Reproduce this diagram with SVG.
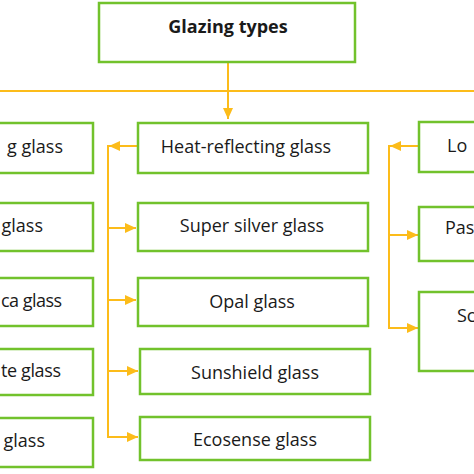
<svg xmlns="http://www.w3.org/2000/svg" width="474" height="474" viewBox="0 0 474 474">
<style>
.box{fill:#ffffff;stroke:#72c22c;stroke-width:2.5}
.lbl{font-family:"Open Sans","Liberation Sans",sans-serif;font-size:18px;fill:#1a1a1a}
.mid{text-anchor:middle}
.end{text-anchor:end}
.title{font-weight:bold}
.con{fill:none;stroke:#fcbc1a;stroke-width:2}
</style>
<defs>
<marker id="ah" markerUnits="userSpaceOnUse" markerWidth="11" markerHeight="11" viewBox="0 0 11 11" refX="11" refY="5.5" orient="auto">
<path d="M0,0.5 L11,5.5 L0,10.5 Z" fill="#fcbc1a"/>
</marker>
</defs>
<rect width="474" height="474" fill="#ffffff"/>
<g id="connectors">
<path class="con" d="M228,62 V91"/>
<path class="con" d="M0,91 H474"/>
<path class="con" d="M228,91 V119" marker-end="url(#ah)"/>
<path class="con" d="M138,146 H109" marker-end="url(#ah)"/>
<path class="con" d="M108,145 V437"/>
<path class="con" d="M108,228 H136" marker-end="url(#ah)"/>
<path class="con" d="M108,300 H136" marker-end="url(#ah)"/>
<path class="con" d="M108,371 H138" marker-end="url(#ah)"/>
<path class="con" d="M107,437 H138" marker-end="url(#ah)"/>
<path class="con" d="M419,146 H390" marker-end="url(#ah)"/>
<path class="con" d="M389,145 V328"/>
<path class="con" d="M389,235 H418" marker-end="url(#ah)"/>
<path class="con" d="M388,328 H418" marker-end="url(#ah)"/>
</g>
<g id="glazing-types"><rect class="box" x="99" y="3" width="256" height="59"/><text class="lbl mid title" x="228" y="33">Glazing types</text></g>
<g id="left-1"><rect class="box" x="-10" y="123" width="103" height="50"/><text class="lbl end" x="63" y="153">g glass</text></g>
<g id="left-2"><rect class="box" x="-10" y="203" width="103" height="48"/><text class="lbl end" x="43" y="232">glass</text></g>
<g id="left-3"><rect class="box" x="-10" y="278" width="103" height="48"/><text class="lbl end" x="62" y="307" textLength="61">ca glass</text></g>
<g id="left-4"><rect class="box" x="-10" y="349" width="103" height="46"/><text class="lbl end" x="61" y="377" textLength="60">te glass</text></g>
<g id="left-5"><rect class="box" x="-10" y="418" width="103" height="49"/><text class="lbl end" x="45" y="447">glass</text></g>
<g id="heat-reflecting"><rect class="box" x="138" y="123" width="230" height="50"/><text class="lbl mid" x="246" y="153">Heat-reflecting glass</text></g>
<g id="super-silver"><rect class="box" x="138" y="203" width="230" height="48"/><text class="lbl mid" x="252" y="232">Super silver glass</text></g>
<g id="opal"><rect class="box" x="138" y="278" width="230" height="48"/><text class="lbl mid" x="252" y="308">Opal glass</text></g>
<g id="sunshield"><rect class="box" x="140" y="349" width="230" height="45"/><text class="lbl mid" x="255" y="379">Sunshield glass</text></g>
<g id="ecosense"><rect class="box" x="140" y="417" width="230" height="43"/><text class="lbl mid" x="255" y="446">Ecosense glass</text></g>
<g id="right-1"><rect class="box" x="419" y="122" width="100" height="50"/><text class="lbl" x="447" y="152">Lo</text></g>
<g id="right-2"><rect class="box" x="419" y="207" width="100" height="54"/><text class="lbl" x="445" y="234">Pas</text></g>
<g id="right-3"><rect class="box" x="419" y="292" width="100" height="79"/><text class="lbl" x="457" y="322">Sc</text></g>
</svg>
